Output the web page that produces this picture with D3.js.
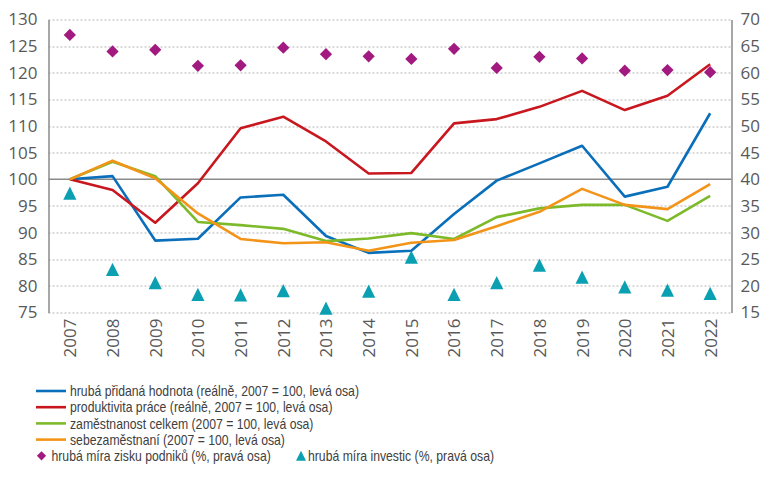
<!DOCTYPE html>
<html>
<head>
<meta charset="utf-8">
<script src="https://cdn.jsdelivr.net/npm/d3@7"></script>
<style>
  body { margin: 0; background: #fff; }
  svg { display: block; }
</style>
</head>
<body>
<svg width="768" height="495"></svg>
<script>
// chart data
const years = ['2007', '2008', '2009', '2010', '2011', '2012', '2013', '2014',
  '2015', '2016', '2017', '2018', '2019', '2020', '2021', '2022'];

const hpHodnota = [100, 100.6, 88.5, 88.85, 96.6, 97.1, 89.35, 86.2, 86.6, 93.5, 99.75, 103.0, 106.3, 96.75, 98.6, 112.4];
const produktivita = [100, 98.0, 91.85, 99.25, 109.6, 111.75, 107.1, 101.1, 101.2, 110.5, 111.3, 113.6, 116.6, 113.0, 115.7, 121.6];
const zamestnanost = [100, 103.3, 100.6, 92.0, 91.4, 90.7, 88.4, 88.9, 89.9, 88.8, 92.9, 94.55, 95.2, 95.2, 92.2, 96.9];
const sebezam = [100, 103.5, 100.2, 93.6, 88.8, 88.0, 88.2, 86.6, 88.1, 88.6, 91.2, 93.9, 98.2, 95.2, 94.4, 99.1];
const miraZisku = [67.1, 64.0, 64.3, 61.3, 61.4, 64.7, 63.5, 63.1, 62.6, 64.5, 60.9, 63.0, 62.7, 60.4, 60.5, 60.1];
const miraInvestic = [37.4, 23.1, 20.6, 18.4, 18.3, 19.1, 15.8, 19.0, 25.4, 18.4, 20.6, 23.9, 21.65, 19.8, 19.2, 18.6];

const leftTicks = [75, 80, 85, 90, 95, 100, 105, 110, 115, 120, 125, 130];
const rightTicks = [15, 20, 25, 30, 35, 40, 45, 50, 55, 60, 65, 70];

const lineSeries = [
  { name: 'hrubá přidaná hodnota (reálně, 2007 = 100, levá osa)', values: hpHodnota, color: '#0a6fba' },
  { name: 'produktivita práce (reálně, 2007 = 100, levá osa)', values: produktivita, color: '#c8171e' },
  { name: 'zaměstnanost celkem (2007 = 100, levá osa)', values: zamestnanost, color: '#7dba2a' },
  { name: 'sebezaměstnaní (2007 = 100, levá osa)', values: sebezam, color: '#f39418' }
];
const ziskLabel = 'hrubá míra zisku podniků (%, pravá osa)';
const investLabel = 'hrubá míra investic (%, pravá osa)';
const ziskColor = '#a2197f';
const investColor = '#0aa0b2';

let svg = d3.select('svg');
let width = 768, height = 495;
let margin = { top: 19.5, right: 36.5, bottom: 182.5, left: 48.5 };
let w = width - margin.left - margin.right;
let h = height - margin.top - margin.bottom;

let x = d3.scalePoint().domain(years).range([0, w]).padding(0.5);
let yL = d3.scaleLinear().domain([75, 130]).range([h, 0]);
let yR = d3.scaleLinear().domain([15, 70]).range([h, 0]);

let g = svg.append('g')
  .attr('transform', `translate(${margin.left},${margin.top})`);

// dotted gridlines
g.selectAll('.grid')
  .data(leftTicks.filter(d => d !== 100))
  .enter().append('line')
  .attr('x1', 0).attr('x2', w)
  .attr('y1', d => Math.round(yL(d)) + 0.5)
  .attr('y2', d => Math.round(yL(d)) + 0.5)
  .attr('stroke', '#b4b4b4')
  .attr('stroke-width', 1.2)
  .attr('stroke-dasharray', '2,2');

// base line at 100
g.append('line')
  .attr('x1', 0).attr('x2', w)
  .attr('y1', yL(100)).attr('y2', yL(100))
  .attr('stroke', '#8a8a8a')
  .attr('stroke-width', 1.5);

const tickFont = '"Open Sans", sans-serif';

let axL = g.append('g')
  .call(d3.axisLeft(yL).tickValues(leftTicks).tickSize(0).tickSizeOuter(0).tickPadding(11));
let axR = g.append('g')
  .attr('transform', `translate(${w},0)`)
  .call(d3.axisRight(yR).tickValues(rightTicks).tickSize(0).tickSizeOuter(0).tickPadding(9));

[axL, axR].forEach(ax => {
  ax.select('.domain').attr('stroke', '#8a8a8a').attr('stroke-width', 1.5);
  ax.selectAll('text')
    .attr('fill', '#595959')
    .style('font-family', tickFont)
    .style('font-size', '17px');
});

let axB = g.append('g')
  .attr('transform', `translate(0,${h})`)
  .call(d3.axisBottom(x).tickSize(0));
axB.select('.domain').remove();
axB.selectAll('text')
  .attr('fill', '#595959')
  .style('font-family', tickFont)
  .style('font-size', '17px')
  .attr('text-anchor', 'end')
  .attr('transform', 'rotate(-90)')
  .attr('x', -6)
  .attr('y', 0)
  .attr('dy', '0.35em');

// lines
let line = d3.line()
  .x((d, i) => x(years[i]))
  .y(d => yL(d));

lineSeries.forEach(s => {
  g.append('path')
    .datum(s.values)
    .attr('fill', 'none')
    .attr('stroke', s.color)
    .attr('stroke-width', 2.6)
    .attr('stroke-linejoin', 'round')
    .attr('d', line);
});

// marker shapes centred on their bounding box
const diamond = {
  draw(ctx, size) {
    let s = Math.sqrt(size) / 2;
    ctx.moveTo(0, -s); ctx.lineTo(s, 0); ctx.lineTo(0, s); ctx.lineTo(-s, 0); ctx.closePath();
  }
};
const triangle = {
  draw(ctx, size) {
    let s = Math.sqrt(size) / 2;
    ctx.moveTo(0, -s); ctx.lineTo(s, s); ctx.lineTo(-s, s); ctx.closePath();
  }
};

g.selectAll('.zisk')
  .data(miraZisku)
  .enter().append('path')
  .attr('transform', (d, i) => `translate(${x(years[i])},${yR(d)})`)
  .attr('d', d3.symbol().type(diamond).size(150))
  .attr('fill', ziskColor);

g.selectAll('.invest')
  .data(miraInvestic)
  .enter().append('path')
  .attr('transform', (d, i) => `translate(${x(years[i])},${yR(d)})`)
  .attr('d', d3.symbol().type(triangle).size(175))
  .attr('fill', investColor);

// legend -- the original font is condensed, so squeeze a normal one
const legFont = '"Liberation Sans", Arial, sans-serif';
let leg = svg.append('g');
let rowY = i => 391 + i * 16.2;

function legText(xPos, yPos, txt) {
  leg.append('g')
    .attr('transform', `translate(${xPos},${yPos}) scale(0.815,1)`)
    .append('text')
    .attr('dy', '0.35em')
    .attr('fill', '#404040')
    .style('font-family', legFont).style('font-size', '15px')
    .text(txt);
}

lineSeries.forEach((s, i) => {
  leg.append('line')
    .attr('x1', 36).attr('x2', 66)
    .attr('y1', rowY(i)).attr('y2', rowY(i))
    .attr('stroke', s.color).attr('stroke-width', 2.6);
  legText(70, rowY(i), s.name);
});

leg.append('path')
  .attr('transform', `translate(41.5,${rowY(4)})`)
  .attr('d', d3.symbol().type(diamond).size(85))
  .attr('fill', ziskColor);
legText(51.5, rowY(4), ziskLabel);

leg.append('path')
  .attr('transform', `translate(301,${rowY(4)})`)
  .attr('d', d3.symbol().type(triangle).size(100))
  .attr('fill', investColor);
legText(308, rowY(4), investLabel);
</script>
</body>
</html>
